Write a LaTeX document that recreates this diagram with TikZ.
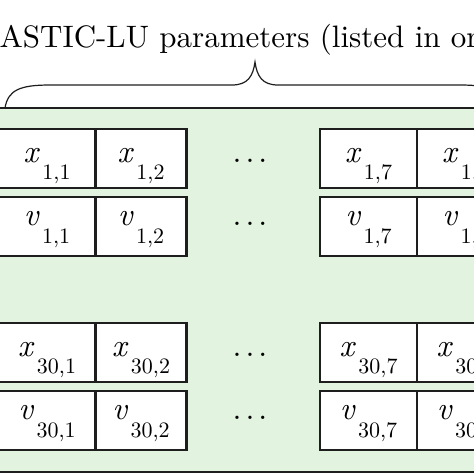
\documentclass[tikz,border=0pt]{standalone}
\usepackage{fontspec}
\setmainfont{lmroman10}[Extension=.otf, UprightFont=*-regular, ItalicFont=*-italic,
  BoldFont=*-bold, BoldItalicFont=*-bolditalic]
\usepackage{tikz}
\usetikzlibrary{positioning}
\definecolor{panelgreen}{HTML}{E2F3DF}
\definecolor{inkdark}{HTML}{1E1E1E}
\newcommand{\param}[3]{\textit{#1}\raisebox{-.55em}{\fontsize{22}{26}\selectfont\kern2.5pt#2,#3}}

\begin{document}
\begin{tikzpicture}[
  x=1pt, y=-1pt,
  cell/.style={draw=inkdark, line width=2.6pt, fill=white, outer sep=0pt, inner sep=0pt,
    minimum height=59pt, minimum width=#1, font=\fontsize{32}{38}\selectfont},
  cell/.default=97pt,
  xrow/.style={text height=17pt, text depth=10pt},
  vrow/.style={text height=13pt, text depth=15pt},
  dots/.style={anchor=base, inner sep=0pt, font=\fontsize{32}{38}\selectfont}
]
\useasboundingbox (0,0) rectangle (474,474);

% green panel
\node[draw=inkdark, line width=2.6pt, fill=panelgreen, inner sep=0pt,
  minimum width=540pt, minimum height=364pt] (panel) at (237,290) {};

% title and brace
\node[anchor=base west, inner sep=0pt, font=\fontsize{31}{37}\selectfont] (title) at (-0.5,47)
  {ASTIC-LU parameters (listed in or};
\draw[line width=1.2pt, inkdark] (5,108) .. controls (8,90) and (20,85) .. (50,85) -- (232,85)
  .. controls (248,85) and (253,76) .. (255,62) .. controls (257,76) and (262,85) .. (278,85)
  -- (460,85) .. controls (490,85) and (502,90) .. (505,108);

% row 1
\node[cell, xrow, anchor=north west] (x-1-1) at (-1.5,129) {\param{x}{1}{1}};
\node[cell=91pt, xrow, right=0pt of x-1-1] (x-1-2) {\param{x}{1}{2}};
\node[cell, xrow, anchor=north west] (x-1-7) at (320,129) {\param{x}{1}{7}};
\node[cell, xrow, right=0pt of x-1-7] (x-1-8) {\param{x}{1}{8}};

% row 2
\node[cell, vrow, below=9pt of x-1-1] (v-1-1) {\param{v}{1}{1}};
\node[cell=91pt, vrow, right=0pt of v-1-1] (v-1-2) {\param{v}{1}{2}};
\node[cell, vrow, below=9pt of x-1-7] (v-1-7) {\param{v}{1}{7}};
\node[cell, vrow, right=0pt of v-1-7] (v-1-8) {\param{v}{1}{8}};

% row 30
\node[cell, xrow, below=67pt of v-1-1] (x-30-1) {\param{x}{30}{1}};
\node[cell=91pt, xrow, right=0pt of x-30-1] (x-30-2) {\param{x}{30}{2}};
\node[cell, xrow, below=67pt of v-1-7] (x-30-7) {\param{x}{30}{7}};
\node[cell, xrow, right=0pt of x-30-7] (x-30-8) {\param{x}{30}{8}};

\node[cell, vrow, below=9pt of x-30-1] (v-30-1) {\param{v}{30}{1}};
\node[cell=91pt, vrow, right=0pt of v-30-1] (v-30-2) {\param{v}{30}{2}};
\node[cell, vrow, below=9pt of x-30-7] (v-30-7) {\param{v}{30}{7}};
\node[cell, vrow, right=0pt of v-30-7] (v-30-8) {\param{v}{30}{8}};

% dots between the groups
\coordinate (dotcol) at (250,0);
\node[dots] (dots-1) at (dotcol |- x-1-1.base) {.\kern4pt.\kern4pt.};
\node[dots] (dots-2) at (dotcol |- v-1-1.base) {.\kern4pt.\kern4pt.};
\node[dots] (dots-3) at (dotcol |- x-30-1.base) {.\kern4pt.\kern4pt.};
\node[dots] (dots-4) at (dotcol |- v-30-1.base) {.\kern4pt.\kern4pt.};

\end{tikzpicture}
\end{document}
